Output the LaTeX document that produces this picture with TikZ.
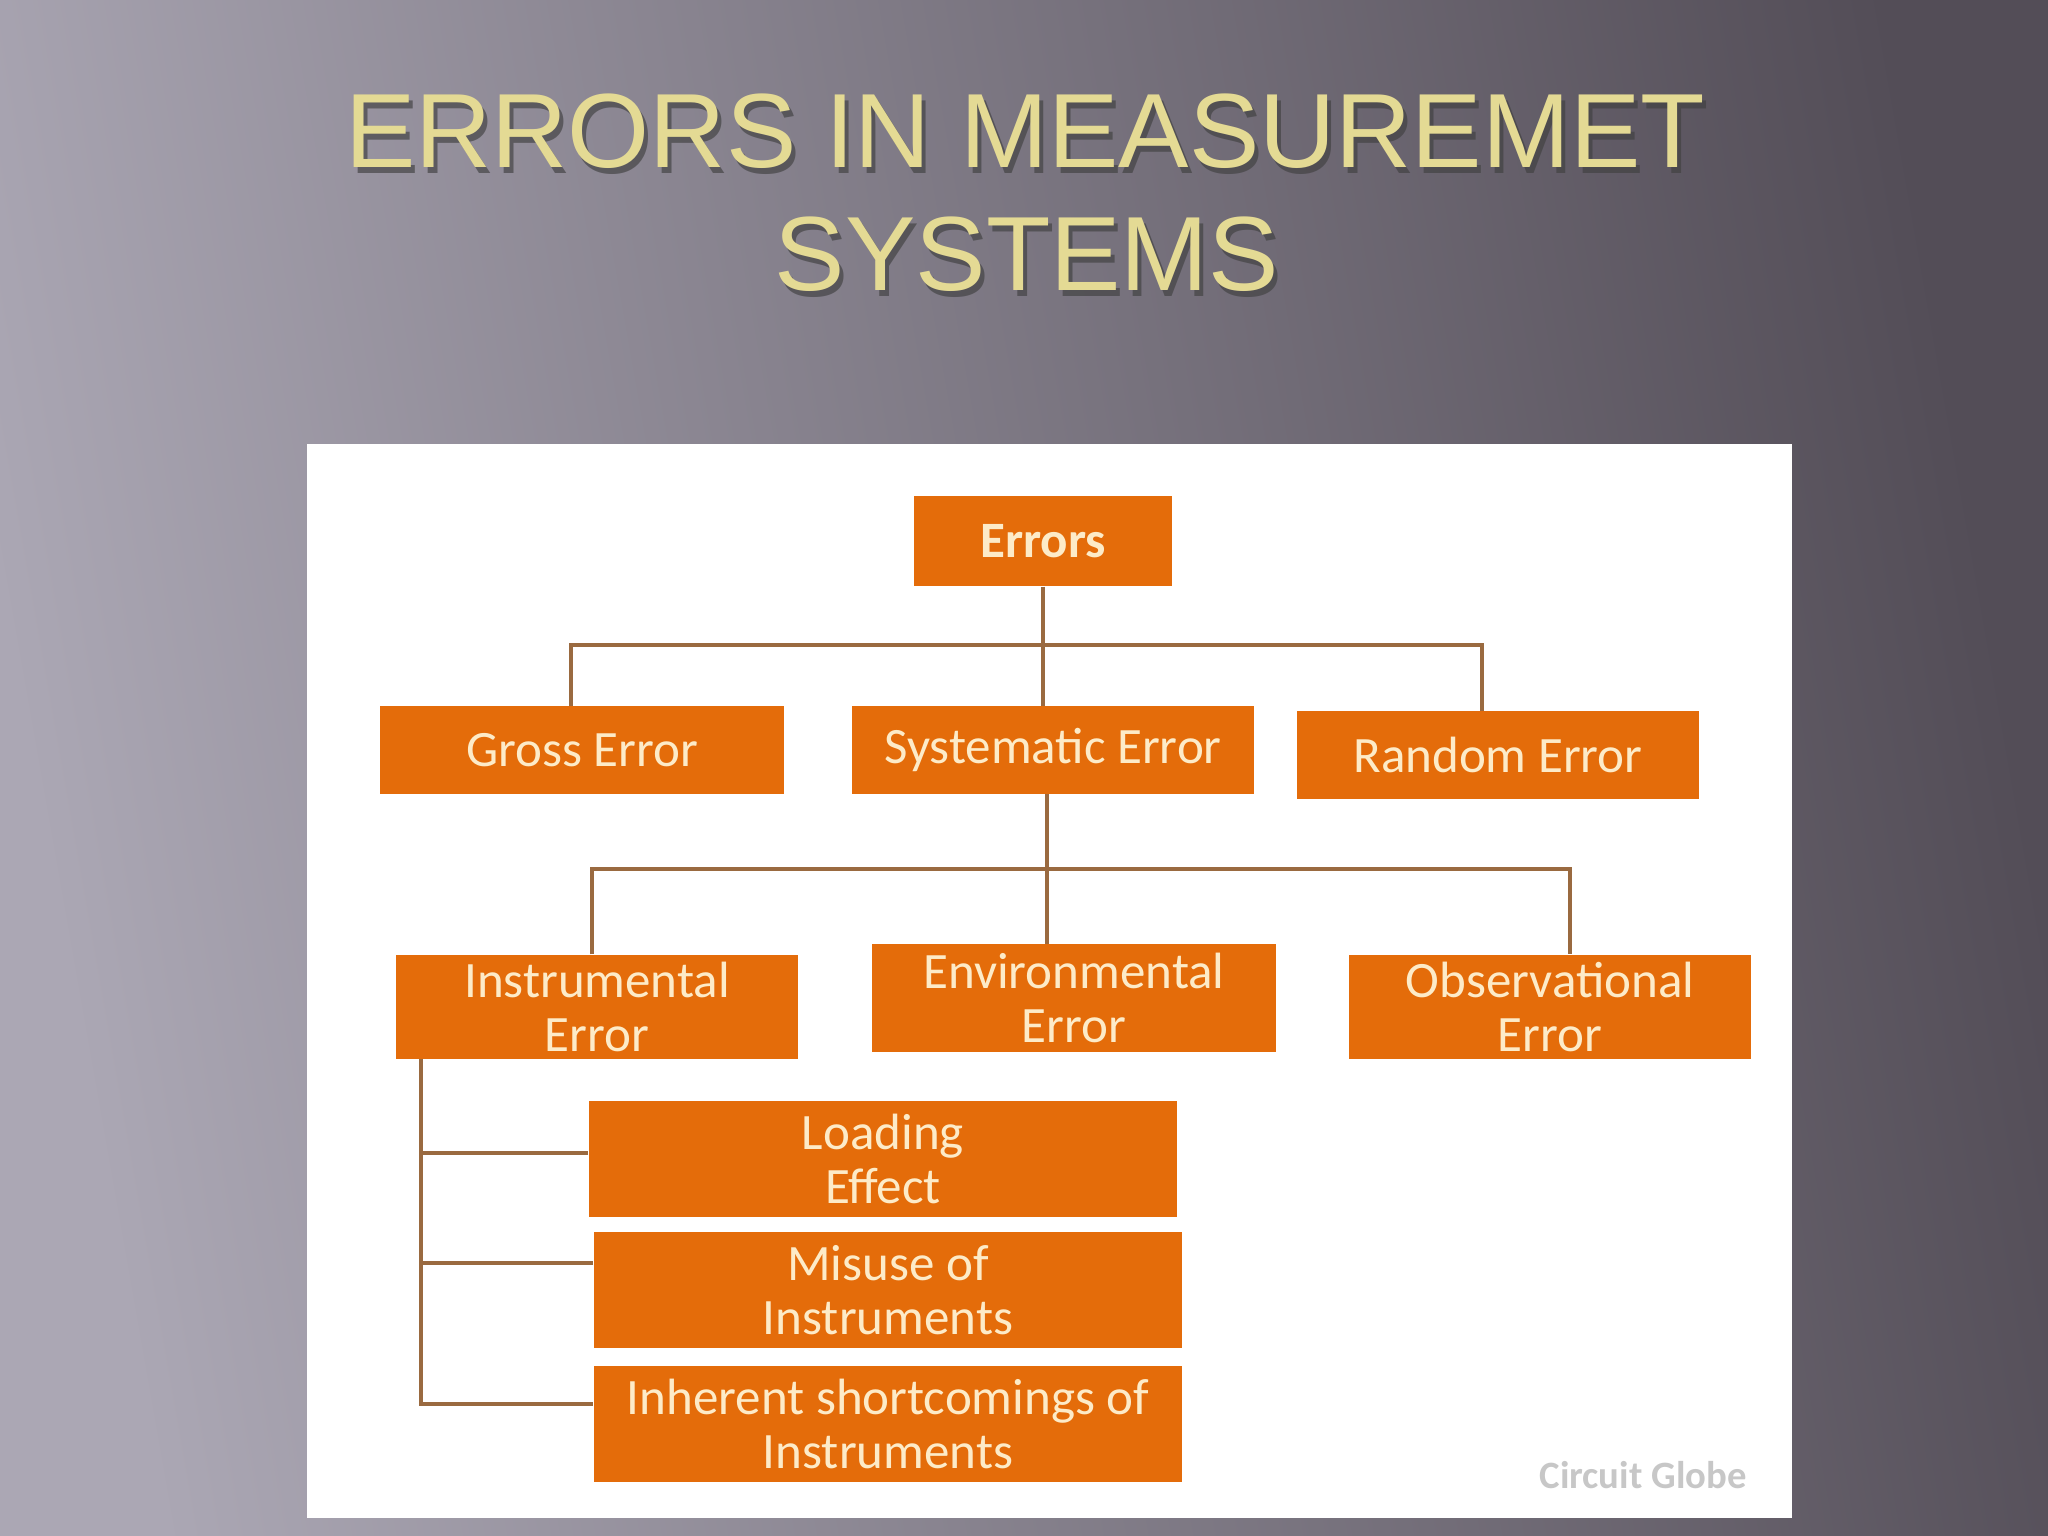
\documentclass[tikz,border=0pt]{standalone}
\usepackage{fontspec}
\setmainfont{Carlito}
\newfontfamily\titlefont{Liberation Sans}
\usetikzlibrary{calc}

\definecolor{bgleft}{HTML}{ABA7B4}
\definecolor{bgmid}{HTML}{78727F}
\definecolor{bgright}{HTML}{534D57}
\definecolor{titlegold}{HTML}{E4DA94}
\definecolor{boxorange}{HTML}{E46C0A}
\definecolor{boxtext}{HTML}{FDEBC8}
\definecolor{linkbrown}{HTML}{9A6A40}

\begin{document}
\begin{tikzpicture}
    [x=0.01cm, y=-0.01cm,
    errbox/.style={
        fill=boxorange, text=boxtext, align=center, inner sep=0pt,
        font=\fontsize{14.5}{15.5}\selectfont},
    link/.style={draw=linkbrown, line width=1.2pt},
    titletext/.style={font=\titlefont\fontsize{30}{35}\selectfont, anchor=base}
    ]
    \useasboundingbox (0,0) rectangle (2048,1536);
    \shade[top color=bgleft, middle color=bgmid, bottom color=bgright, shading angle=100] (0,0) rectangle (2048,1536);

    \foreach \tname/\tpos/\ttext in {title1/{1025,167}/ERRORS IN MEASUREMET, title2/{1027,290}/SYSTEMS} {
        \node[titletext, text=black!75, opacity=0.65] at ($(\tpos)+(4,6)$) {\ttext};
        \node (\tname) [titletext, text=titlegold] at (\tpos) {\ttext};
    }

    \fill[white] (307,444) rectangle (1792,1518);

    \node (errors) [errbox, minimum width=2.58cm, minimum height=0.90cm, font=\fontsize{14.5}{15.5}\selectfont\bfseries] at (1043,541) {Errors};
    \node (gross) [errbox, minimum width=4.03cm, minimum height=0.87cm] at (582,750) {Gross Error};
    \node (syst) [errbox, minimum width=4.02cm, minimum height=0.87cm] at (1053,750) {Systematic Error};
    \node (random) [errbox, minimum width=4.02cm, minimum height=0.87cm] at (1498,755) {Random Error};
    \node (instr) [errbox, minimum width=4.01cm, minimum height=1.04cm] at (597,1007) {Instrumental\\Error};
    \node (env) [errbox, minimum width=4.03cm, minimum height=1.07cm] at (1074,998) {Environmental\\Error};
    \node (obs) [errbox, minimum width=4.02cm, minimum height=1.04cm] at (1550,1007) {Observational\\Error};
    \node (loading) [errbox, minimum width=5.88cm, minimum height=1.16cm] at (883,1159) {Loading\\Effect};
    \node (misuse) [errbox, minimum width=5.88cm, minimum height=1.15cm] at (888,1290) {Misuse of\\Instruments};
    \node (inherent) [errbox, minimum width=5.88cm, minimum height=1.15cm] at (888,1424) {Inherent shortcomings of\\Instruments};

    \node (credit) [anchor=base east, text=black!22, font=\fontsize{11}{13}\selectfont\bfseries] at (1759,1488) {Circuit Globe};

    \coordinate (bus1) at (1042,645);
    \coordinate (bus2) at (1047,869);
    \coordinate (trunk) at (421,1059);

    \draw[link] (errors.south) -- (errors.south |- syst.north);
    \draw[link] ([xshift=-0.11cm]gross.north) |- (bus1) -| ([xshift=-0.16cm]random.north);
    \draw[link] ([xshift=-0.06cm]syst.south) -- ([xshift=-0.06cm]syst.south |- env.north);
    \draw[link] ([xshift=-0.05cm]instr.north) |- (bus2) -| ([xshift=0.2cm]obs.north);
    \draw[link] (trunk) |- ([yshift=0.2cm]inherent.west);
    \draw[link] ([yshift=0.06cm]loading.west) -- ([yshift=0.06cm]loading.west -| trunk);
    \draw[link] ([yshift=0.27cm]misuse.west) -- ([yshift=0.27cm]misuse.west -| trunk);
\end{tikzpicture}
\end{document}
